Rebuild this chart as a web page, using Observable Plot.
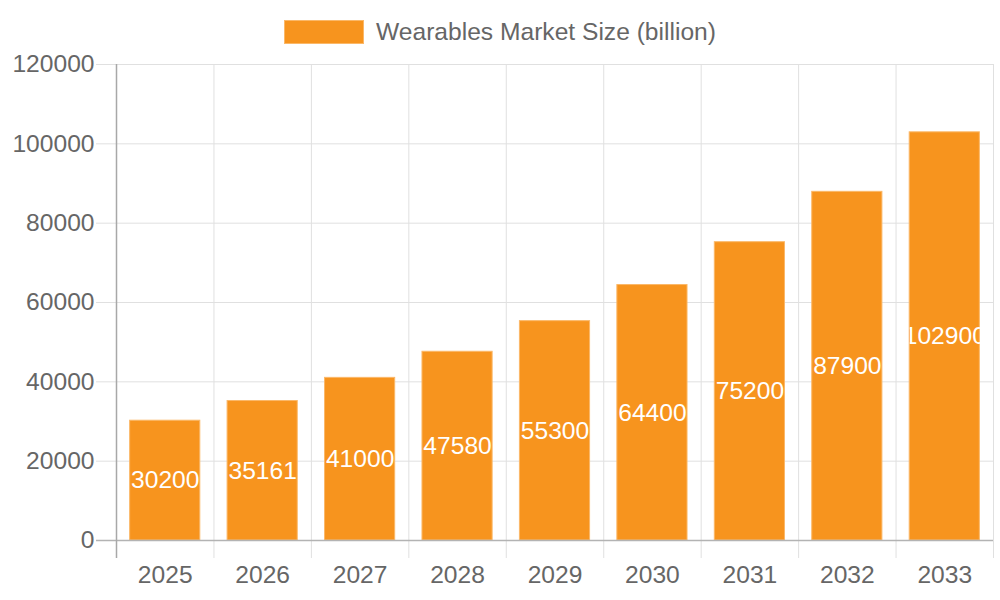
<!DOCTYPE html>
<html>
<head>
<meta charset="utf-8">
<script src="https://cdn.jsdelivr.net/npm/d3@7"></script>
<script src="https://cdn.jsdelivr.net/npm/@observablehq/plot@0.6"></script>
<style>
  html, body { margin: 0; padding: 0; background: #fff; }
  body { width: 1000px; height: 600px; overflow: hidden; font-family: "Liberation Sans", Arial, sans-serif; }
  #legend { height: 50px; box-sizing: border-box; padding-top: 20px; display: flex; justify-content: center; align-items: flex-start; }
  #legend .box { width: 80px; height: 24px; background: #f7941e; border: 1px solid #fbb868; box-sizing: border-box; margin-right: 12px; }
  #legend .label { font-size: 24.6px; line-height: 24px; color: #666; }
  #chart svg { display: block; }
</style>
</head>
<body>
<div id="legend"></div>
<div id="chart"></div>
<script>
const years = ["2025", "2026", "2027", "2028", "2029", "2030", "2031", "2032", "2033"];
const values = [30200, 35161, 41000, 47580, 55300, 64400, 75200, 87900, 102900];
const yTicks = [0, 20000, 40000, 60000, 80000, 100000, 120000];
const seriesName = "Wearables Market Size (billion)";
const barColor = "#f7941e";

const data = years.map((year, i) => ({year, value: values[i]}));

// legend
const legend = document.getElementById("legend");
legend.innerHTML = `<div class="box"></div><div class="label"></div>`;
legend.querySelector(".label").textContent = seriesName;

const width = 1000, height = 550;
const marginLeft = 116, marginRight = 7, marginTop = 14, marginBottom = 60;
const step = (width - marginLeft - marginRight) / years.length;

function clipToBand(index, scales, values, dimensions, context, next) {
  const g = next(index, scales, values, dimensions, context);
  const raw = scales.x.bandwidth;
  const bw = typeof raw === "function" ? raw() : raw;
  const ns = "http://www.w3.org/2000/svg";
  const doc = context.document;
  const id = "bandclip";
  const defs = doc.createElementNS(ns, "defs");
  const cp = doc.createElementNS(ns, "clipPath");
  cp.setAttribute("id", id);
  const r = doc.createElementNS(ns, "rect");
  r.setAttribute("x", -bw / 2);
  r.setAttribute("y", -1000);
  r.setAttribute("width", bw);
  r.setAttribute("height", 2000);
  cp.appendChild(r);
  defs.appendChild(cp);
  g.insertBefore(defs, g.firstChild);
  g.querySelectorAll("text").forEach(t => t.setAttribute("clip-path", `url(#${id})`));
  return g;
}

const chart = Plot.plot({
  width, height, marginLeft, marginRight, marginTop, marginBottom,
  style: {fontFamily: "'Liberation Sans', Arial, sans-serif", fontSize: "24.6px", color: "#666", background: "#fff"},
  x: {domain: years, paddingInner: 0.28, paddingOuter: 0.14, round: false, label: null},
  y: {domain: [0, 120000], label: null},
  marks: [
    Plot.ruleY(yTicks.filter(d => d !== 0), {stroke: "#e0e0e0", strokeWidth: 1, insetLeft: -20}),
    Plot.ruleX(years.slice(1), {stroke: "#e0e0e0", strokeWidth: 1, dx: -step / 2, insetBottom: -18}),
    Plot.ruleX(years.slice(-1), {stroke: "#e0e0e0", strokeWidth: 1, dx: step / 2, insetBottom: -18}),
    Plot.barY(data, {x: "year", y: "value", fill: barColor, stroke: "#fbb868", strokeWidth: 1}),
    Plot.ruleY([0], {stroke: "#b3b3b3", strokeWidth: 1.5, insetLeft: -20}),
    Plot.ruleX(years.slice(0, 1), {stroke: "#a8a8a8", strokeWidth: 1.5, dx: -step / 2, insetBottom: -18}),
    Plot.axisY({ticks: yTicks, tickSize: 0, tickPadding: 22, fontSize: 24.6, tickFormat: d => String(d), label: null}),
    Plot.axisX({tickSize: 0, tickPadding: 25, fontSize: 24.6, label: null}),
    Plot.text(data, {x: "year", y: d => d.value / 2, text: d => String(d.value), fill: "white", fontSize: 24.6, render: clipToBand})
  ]
});
document.getElementById("chart").appendChild(chart);
</script>
</body>
</html>
